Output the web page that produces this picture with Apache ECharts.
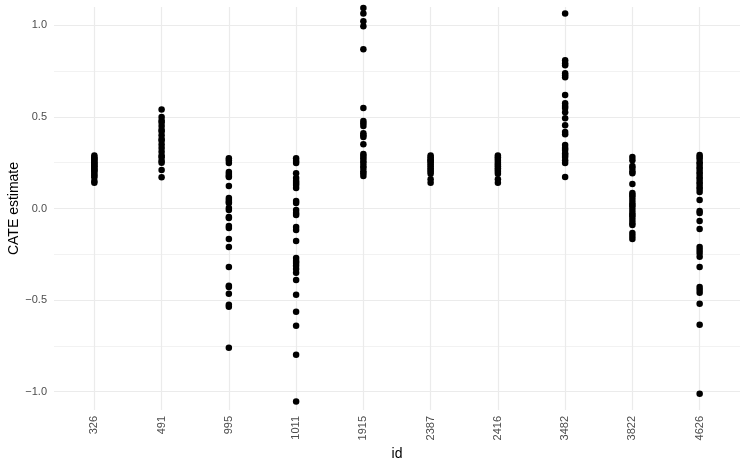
<!DOCTYPE html>
<html>
<head>
<meta charset="utf-8">
<script src="https://cdn.jsdelivr.net/npm/echarts@6/dist/echarts.min.js"></script>
<style>
  html, body { margin: 0; padding: 0; background: #fff; }
  #chart { width: 747px; height: 467px; }
</style>
</head>
<body>
<div id="chart"></div>
<script>
// category ids on the x axis
const ids = ["326", "491", "995", "1011", "1915", "2387", "2416", "3482", "3822", "4626"];

// CATE estimates per id
const v326 = [0.29, 0.28, 0.27, 0.27, 0.26, 0.25, 0.25, 0.24, 0.23, 0.23, 0.22, 0.21, 0.21, 0.2, 0.19, 0.18, 0.17, 0.15, 0.14];
const v491 = [0.54, 0.5, 0.48, 0.47, 0.45, 0.43, 0.42, 0.4, 0.38, 0.37, 0.35, 0.33, 0.31, 0.29, 0.28, 0.26, 0.25, 0.21, 0.17];
const v995 = [0.275, 0.264, 0.248, 0.199, 0.188, 0.177, 0.172, 0.123, 0.057, 0.046, 0.035, 0.03, 0.003, -0.008, -0.046, -0.052, -0.095, -0.106, -0.166, -0.21, -0.319, -0.422, -0.428, -0.466, -0.526, -0.537, -0.76];
const v1011 = [0.275, 0.259, 0.248, 0.193, 0.166, 0.15, 0.139, 0.128, 0.112, 0.041, 0.03, -0.008, -0.025, -0.035, -0.101, -0.117, -0.177, -0.27, -0.286, -0.297, -0.313, -0.33, -0.351, -0.39, -0.471, -0.564, -0.64, -0.798, -1.054];
const v1915 = [1.095, 1.065, 1.022, 0.995, 0.869, 0.548, 0.477, 0.466, 0.45, 0.411, 0.4, 0.39, 0.351, 0.297, 0.286, 0.275, 0.259, 0.248, 0.232, 0.221, 0.204, 0.193, 0.177];
const v2387 = [0.29, 0.28, 0.27, 0.26, 0.26, 0.25, 0.24, 0.23, 0.22, 0.21, 0.2, 0.19, 0.16, 0.14];
const v2416 = [0.29, 0.28, 0.27, 0.26, 0.25, 0.24, 0.23, 0.22, 0.21, 0.2, 0.19, 0.16, 0.14];
const v3482 = [1.065, 0.809, 0.793, 0.782, 0.738, 0.728, 0.717, 0.619, 0.575, 0.559, 0.548, 0.526, 0.493, 0.455, 0.417, 0.406, 0.346, 0.33, 0.319, 0.302, 0.292, 0.281, 0.264, 0.248, 0.172];
const v3822 = [0.281, 0.264, 0.232, 0.221, 0.204, 0.193, 0.134, 0.084, 0.074, 0.063, 0.046, 0.03, 0.019, 0.008, -0.008, -0.025, -0.035, -0.046, -0.063, -0.079, -0.09, -0.134, -0.15, -0.166];
const v4626 = [0.292, 0.281, 0.27, 0.253, 0.243, 0.226, 0.215, 0.199, 0.188, 0.172, 0.161, 0.144, 0.134, 0.117, 0.106, 0.09, 0.046, -0.014, -0.025, -0.068, -0.112, -0.21, -0.226, -0.243, -0.264, -0.319, -0.428, -0.444, -0.46, -0.52, -0.635, -1.011, -1.115];

const values = [v326, v491, v995, v1011, v1915, v2387, v2416, v3482, v3822, v4626];

// y tick labels and grid lines
const yMajor = [-1, -0.5, 0, 0.5, 1];
const yMinor = [-0.75, -0.25, 0.25, 0.75];

let points = [];
values.forEach((arr, i) => {
  arr.forEach(v => points.push([i, v]));
});

const fmt = v => (v < 0 ? "\u2212" : "") + Math.abs(v).toFixed(1);

const chart = echarts.init(document.getElementById("chart"));
chart.setOption({
  animation: false,
  backgroundColor: "#fff",
  grid: { left: 54, right: 7, top: 7, bottom: 57, outerBoundsMode: "none" },
  xAxis: {
    type: "value",
    min: -0.6,
    max: 9.6,
    name: "id",
    nameLocation: "middle",
    nameGap: 37,
    nameMoveOverlap: false,
    nameTextStyle: { color: "#000", fontSize: 14, fontFamily: "Liberation Sans" },
    axisLine: { show: false },
    axisTick: { show: false },
    splitLine: { show: false },
    axisLabel: {
      customValues: ids.map((d, i) => i),
      formatter: v => ids[Math.round(v)],
      rotate: 90,
      margin: 6,
      color: "#4d4d4d",
      fontSize: 11,
      fontFamily: "Liberation Sans",
    },
  },
  yAxis: {
    type: "value",
    min: -1.1,
    max: 1.1,
    name: "CATE estimate",
    nameLocation: "middle",
    nameGap: 33,
    nameMoveOverlap: false,
    nameTextStyle: { color: "#000", fontSize: 14, fontFamily: "Liberation Sans" },
    axisLine: { show: false },
    axisTick: { show: false },
    splitLine: { show: false },
    axisLabel: {
      customValues: yMajor,
      formatter: fmt,
      margin: 7,
      color: "#4d4d4d",
      fontSize: 11,
      fontFamily: "Liberation Sans",
    },
  },
  series: [
    {
      // grid lines
      type: "scatter",
      data: [],
      z: 0,
      silent: true,
      markLine: {
        silent: true,
        z: 0,
        symbol: ["none", "none"],
        label: { show: false },
        animation: false,
        data: [
          ...yMinor.map(v => ({ yAxis: v, lineStyle: { color: "#f2f2f2", width: 1, type: "solid" } })),
          ...yMajor.map(v => ({ yAxis: v, lineStyle: { color: "#ebebeb", width: 1.2, type: "solid" } })),
          ...ids.map((d, i) => ({ xAxis: i, lineStyle: { color: "#ebebeb", width: 1.2, type: "solid" } })),
        ],
      },
    },
    {
      type: "scatter",
      data: points,
      symbolSize: 6.5,
      clip: true,
      z: 3,
      itemStyle: { color: "#000", opacity: 1 },
    },
  ],
});
</script>
</body>
</html>
